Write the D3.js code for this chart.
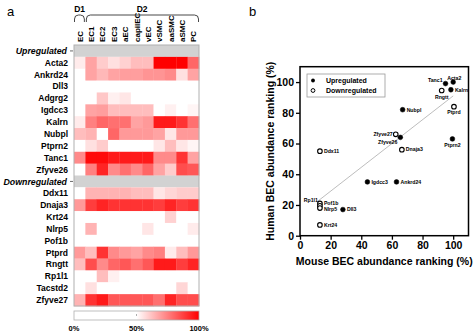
<!DOCTYPE html>
<html>
<head>
<meta charset="utf-8">
<script src="https://cdn.jsdelivr.net/npm/d3@7"></script>
<style>
  body { margin: 0; background: #fff; }
  text { font-family: "Liberation Sans", Arial, sans-serif; font-weight: bold; }
</style>
</head>
<body>
<div id="chart"></div>
<script>
// ---- panel a: heatmap data ----
var cellTypes = ["EC", "EC1", "EC2", "EC3", "aEC", "capilEC", "vEC", "vSMC", "aaSMC", "aSMC", "PC"];
var upGenes = ["Acta2", "Ankrd24", "Dll3", "Adgrg2", "Igdcc3", "Kalrn", "Nubpl", "Ptprn2", "Tanc1", "Zfyve26"];
var downGenes = ["Ddx11", "Dnaja3", "Krt24", "Nlrp5", "Pof1b", "Ptprd", "Rngtt", "Rp1l1", "Tacstd2", "Zfyve27"];
// percent values per gene, in cellTypes order
var upValues = [
  [54, 68, 60, 56, 59, 63, 63, 100, 100, 100, 80],
  [30, 68, 64, 68, 69, 69, 71, 71, 73, 56, 68],
  [30, 30, 30, 30, 30, 30, 30, 30, 30, 30, 30],
  [30, 30, 61, 53, 55, 30, 30, 30, 30, 30, 30],
  [30, 68, 69, 63, 63, 63, 63, 30, 53, 30, 52],
  [54, 75, 80, 78, 78, 68, 70, 95, 95, 90, 78],
  [63, 65, 30, 80, 70, 70, 70, 68, 55, 70, 70],
  [30, 56, 60, 30, 30, 30, 30, 55, 63, 55, 52],
  [73, 98, 98, 95, 95, 95, 95, 73, 73, 90, 68],
  [30, 75, 93, 73, 78, 73, 80, 68, 60, 85, 83]
];
var downValues = [
  [30, 65, 65, 65, 65, 63, 63, 55, 58, 60, 60],
  [70, 88, 93, 90, 90, 90, 90, 88, 93, 88, 90],
  [30, 30, 30, 30, 30, 30, 30, 30, 59, 30, 30],
  [30, 65, 30, 30, 30, 30, 55, 30, 30, 30, 54],
  [30, 30, 30, 30, 30, 30, 30, 30, 30, 30, 30],
  [70, 63, 90, 73, 70, 68, 73, 75, 54, 63, 70],
  [63, 85, 73, 80, 83, 78, 83, 95, 95, 88, 93],
  [30, 30, 63, 53, 30, 30, 30, 30, 30, 30, 30],
  [30, 56, 30, 30, 30, 30, 30, 30, 30, 58, 30],
  [65, 90, 95, 83, 83, 83, 83, 78, 93, 85, 85]
];
var colorTicks = [0, 50, 100];

// ---- panel b: scatter data ----
var upNames  = ["Acta2", "Tanc1", "Kalrn", "Nubpl", "Zfyve26", "Ptprn2", "Igdcc3", "Ankrd24", "Dll3"];
var upMouse  = [100, 95, 98.5, 67, 65.5, 99.5, 44, 63, 28];
var upHuman  = [100, 99, 95, 82, 64, 63, 35, 35, 17];
var downNames = ["Rngtt", "Ptprd", "Zfyve27", "Dnaja3", "Ddx11", "Rp1l1", "Pof1b", "Nlrp5", "Krt24"];
var downMouse = [92.5, 100.5, 62.5, 66.5, 13, 13, 13, 13, 13];
var downHuman = [94.5, 84, 66, 56, 55, 21, 19.5, 18, 7];
var fitLine = [[11, 22], [100, 91]];
var axisTicks = [0, 20, 40, 60, 80, 100];

var svg = d3.select("#chart").append("svg")
  .attr("width", 474).attr("height", 335);

// ===== panel a =====
svg.append("text").attr("x", 7).attr("y", 16).style("font-weight", "normal")
  .style("font-size", "13px").text("a");

var rows = [{name: "Upregulated", header: true}]
  .concat(upGenes.map(function(g, i) { return {name: g, values: upValues[i]}; }))
  .concat([{name: "Downregulated", header: true}])
  .concat(downGenes.map(function(g, i) { return {name: g, values: downValues[i]}; }));

var hx = d3.scaleBand().domain(cellTypes).range([74, 199]);
var hy = d3.scaleBand().domain(rows.map(function(r) { return r.name; })).range([45, 306]);
var heat = d3.scaleLinear().domain([0, 50, 100]).range(["#ffffff", "#ffffff", "#ff0000"]);

var ha = svg.append("g");
rows.forEach(function(r) {
  if (r.header) {
    ha.append("rect").attr("x", hx.range()[0]).attr("y", hy(r.name))
      .attr("width", hx.range()[1] - hx.range()[0]).attr("height", hy.bandwidth())
      .attr("fill", "#d2d2d2");
  } else {
    ha.selectAll(null).data(r.values).enter().append("rect")
      .attr("x", function(d, i) { return hx(cellTypes[i]); })
      .attr("y", hy(r.name))
      .attr("width", hx.bandwidth() + 0.3)
      .attr("height", hy.bandwidth() + 0.3)
      .attr("fill", function(d) { return heat(d); });
  }
});
ha.append("rect").attr("x", 74).attr("y", 45).attr("width", 125).attr("height", 261)
  .attr("fill", "none").attr("stroke", "#b0b0b0").attr("stroke-width", 1);

// row labels
ha.selectAll(".rowlab").data(rows).enter().append("text")
  .attr("x", function(r) { return r.header ? 67 : 68; })
  .attr("y", function(r) { return hy(r.name) + hy.bandwidth() / 2; })
  .attr("dy", "0.35em")
  .attr("text-anchor", "end")
  .style("font-size", function(r) { return r.header ? "8.8px" : "8.5px"; })
  .style("font-style", function(r) { return r.header ? "italic" : "normal"; })
  .text(function(r) { return r.name; });
// header tick marks
rows.filter(function(r) { return r.header; }).forEach(function(r) {
  ha.append("line").attr("x1", 70).attr("x2", 73)
    .attr("y1", hy(r.name) + hy.bandwidth() / 2).attr("y2", hy(r.name) + hy.bandwidth() / 2)
    .attr("stroke", "#444").attr("stroke-width", 0.8);
});

// column labels
ha.selectAll(".collab").data(cellTypes).enter().append("text")
  .attr("transform", function(c) {
    return "translate(" + (hx(c) + hx.bandwidth() / 2 + 3) + ",42) rotate(-90)";
  })
  .style("font-size", "8px")
  .text(function(c) { return c; });

// D1 / D2 brackets
function bracket(x0, x1, yTop, yBot) {
  var r = 4;
  return "M" + x0 + "," + yBot + " L" + x0 + "," + (yTop + r) +
    " Q" + x0 + "," + yTop + " " + (x0 + r) + "," + yTop +
    " L" + (x1 - r) + "," + yTop +
    " Q" + x1 + "," + yTop + " " + x1 + "," + (yTop + r) +
    " L" + x1 + "," + yBot;
}
ha.append("path").attr("d", bracket(hx("EC") + 0.5, hx("EC") + hx.bandwidth() - 1, 15, 22))
  .attr("fill", "none").attr("stroke", "#333").attr("stroke-width", 0.9);
ha.append("path").attr("d", bracket(hx("EC1") + 1, hx("PC") + hx.bandwidth() - 0.5, 15, 22))
  .attr("fill", "none").attr("stroke", "#333").attr("stroke-width", 0.9);
ha.append("text").attr("x", hx("EC") + hx.bandwidth() / 2).attr("y", 12)
  .attr("text-anchor", "middle").style("font-size", "8.5px").text("D1");
ha.append("text").attr("x", (hx("EC1") + hx("PC") + hx.bandwidth()) / 2).attr("y", 12)
  .attr("text-anchor", "middle").style("font-size", "8.5px").text("D2");

// colour bar
var defs = svg.append("defs");
var grad = defs.append("linearGradient").attr("id", "cbar");
[0, 50, 100].forEach(function(v) {
  grad.append("stop").attr("offset", v + "%").attr("stop-color", heat(v));
});
var cb = d3.scaleLinear().domain([0, 100]).range([74, 199]);
svg.append("rect").attr("x", cb(0)).attr("y", 311).attr("width", cb(100) - cb(0)).attr("height", 9)
  .attr("fill", "url(#cbar)").attr("stroke", "#b0b0b0").attr("stroke-width", 0.8);
svg.append("line").attr("x1", cb(50)).attr("x2", cb(50)).attr("y1", 314).attr("y2", 316)
  .attr("stroke", "#999").attr("stroke-width", 0.8);
svg.selectAll(".cbt").data(colorTicks).enter().append("text")
  .attr("x", function(d) { return cb(d); }).attr("y", 331)
  .attr("text-anchor", "middle").style("font-size", "7.5px")
  .text(function(d) { return d + "%"; });

// ===== panel b =====
svg.append("text").attr("x", 249).attr("y", 16).style("font-weight", "normal")
  .style("font-size", "13px").text("b");

var sx = d3.scaleLinear().domain([0, 110]).range([300, 468.5]);
var sy = d3.scaleLinear().domain([0, 110]).range([235.7, 66.7]);
var pb = svg.append("g");

pb.append("line")
  .attr("x1", sx(fitLine[0][0])).attr("y1", sy(fitLine[0][1]))
  .attr("x2", sx(fitLine[1][0])).attr("y2", sy(fitLine[1][1]))
  .attr("stroke", "#b5b5b5").attr("stroke-width", 0.9);

var xAxis = d3.axisBottom(sx).tickValues(axisTicks).tickSize(4).tickPadding(2);
var yAxis = d3.axisLeft(sy).tickValues(axisTicks).tickSize(4).tickPadding(2);
var gx = pb.append("g").attr("transform", "translate(0," + sy(0) + ")").call(xAxis);
var gy = pb.append("g").attr("transform", "translate(" + sx(0) + ",0)").call(yAxis);
[gx, gy].forEach(function(g) {
  g.select(".domain").remove();
  g.selectAll("line").attr("stroke", "#000").attr("stroke-width", 1.3);
  g.selectAll("text").style("font-size", "10.5px").style("font-family", "Liberation Sans, Arial, sans-serif")
    .style("font-weight", "bold").attr("fill", "#000");
});
pb.append("rect").attr("x", sx(0)).attr("y", sy(110))
  .attr("width", sx(110) - sx(0)).attr("height", sy(0) - sy(110))
  .attr("fill", "none").attr("stroke", "#000").attr("stroke-width", 1.5);

pb.append("text").attr("x", (sx(0) + sx(110)) / 2).attr("y", 265)
  .attr("text-anchor", "middle").style("font-size", "10.5px")
  .text("Mouse BEC abundance ranking (%)");
pb.append("text").attr("transform", "translate(274," + ((sy(0) + sy(110)) / 2) + ") rotate(-90)")
  .attr("text-anchor", "middle").style("font-size", "10.5px")
  .text("Human BEC abundance ranking (%)");

// label placement (dx, dy, anchor)
var labelPos = {
  Tanc1: [-3, -3, "end"], Acta2: [-6, -4, "start"], Kalrn: [4, 0, "start"],
  Rngtt: [0, 7, "middle"], Ptprd: [0, 6, "middle"], Zfyve27: [-3, 0, "end"],
  Zfyve26: [-3, 5, "end"], Ptprn2: [0, 6, "middle"], Rp1l1: [-2, -3.5, "end"],
  Pof1b: [4, -2.5, "start"], Nlrp5: [4, 1, "start"]
};

function drawPoints(names, mx, hy2, filled) {
  var pts = names.map(function(n, i) { return {name: n, x: mx[i], y: hy2[i]}; });
  pb.selectAll(null).data(pts).enter().append("circle")
    .attr("cx", function(d) { return sx(d.x); })
    .attr("cy", function(d) { return sy(d.y); })
    .attr("r", filled ? 2.4 : 2.3)
    .attr("fill", filled ? "#000" : "#fff")
    .attr("stroke", "#000").attr("stroke-width", filled ? 0.5 : 1.1);
  pb.selectAll(null).data(pts).enter().append("text")
    .attr("x", function(d) { var p = labelPos[d.name]; return sx(d.x) + (p ? p[0] : 4); })
    .attr("y", function(d) { var p = labelPos[d.name]; return sy(d.y) + (p ? p[1] : 0); })
    .attr("dy", "0.35em")
    .attr("text-anchor", function(d) { var p = labelPos[d.name]; return p ? p[2] : "start"; })
    .style("font-size", "5.2px")
    .text(function(d) { return d.name; });
}
drawPoints(upNames, upMouse, upHuman, true);
drawPoints(downNames, downMouse, downHuman, false);

// legend
var lg = pb.append("g");
lg.append("rect").attr("x", 307).attr("y", 74).attr("width", 78).attr("height", 23)
  .attr("fill", "#fff").attr("stroke", "#999").attr("stroke-width", 0.8);
lg.append("circle").attr("cx", 313).attr("cy", 80.5).attr("r", 1.9).attr("fill", "#000");
lg.append("circle").attr("cx", 313).attr("cy", 90.5).attr("r", 1.9).attr("fill", "#fff")
  .attr("stroke", "#000").attr("stroke-width", 1);
lg.append("text").attr("x", 326).attr("y", 80.5).attr("dy", "0.35em").style("font-size", "7px").text("Upregulated");
lg.append("text").attr("x", 326).attr("y", 90.5).attr("dy", "0.35em").style("font-size", "7px").text("Downregulated");
</script>
</body>
</html>
